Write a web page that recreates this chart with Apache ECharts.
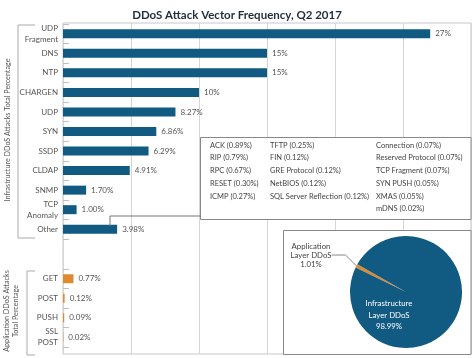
<!DOCTYPE html>
<html>
<head>
<meta charset="utf-8">
<script src="https://cdn.jsdelivr.net/npm/echarts@6/dist/echarts.min.js"></script>
<style>
html,body{margin:0;padding:0;background:#fff;}
#chart{width:474px;height:358px;}
</style>
</head>
<body>
<div id="chart"></div>
<script>
// ---- data ----
var infraCats = ['UDP\nFragment','DNS','NTP','CHARGEN','UDP','SYN','SSDP','CLDAP','SNMP','TCP\nAnomaly','Other'];
var infraVals = [27, 15, 15, 10, 8.27, 6.86, 6.29, 4.91, 1.70, 1.00, 3.98];
var appCats = ['GET','POST','PUSH','SSL\nPOST'];
var appVals = [0.77, 0.12, 0.09, 0.02];
var otherNames = ['ACK','RIP','RPC','RESET','ICMP',
                  'TFTP','FIN','GRE Protocol','NetBIOS','SQL Server Reflection',
                  'Connection','Reserved Protocol','TCP Fragment','SYN PUSH','XMAS','mDNS'];
var otherVals = [0.89,0.79,0.67,0.30,0.27,
                 0.25,0.12,0.12,0.12,0.12,
                 0.07,0.07,0.07,0.05,0.05,0.02];
var otherColumns = [5, 5, 6];
var pieNames = ['Application\nLayer DDoS','Infrastructure\nLayer DDoS'];
var pieVals = [1.01, 98.99];
var xTicks = {min: 0, max: 30, interval: 5};

var BLUE = '#115a82', ORANGE = '#e08a2f';
var FONT = 'Lato, "Open Sans", sans-serif';
var LABEL_C = '#555';

function fmt(v){ return (Number.isInteger(v) && v >= 10) ? v + '%' : v.toFixed(2) + '%'; }

var chart = echarts.init(document.getElementById('chart'), null, {renderer:'canvas'});

// text box columns
var colX = [210, 270, 376];
var boxTexts = [];
var idx = 0;
otherColumns.forEach(function(n, c){
  var lines = [];
  for (var i = 0; i < n; i++, idx++) lines.push(otherNames[idx] + ' (' + otherVals[idx].toFixed(2) + '%)');
  boxTexts.push({type:'text', left: colX[c], top: 139, z: 101,
    style:{text: lines.join('\n'), fill:'#444', font: '7.5px ' + FONT, lineHeight: 12.7}});
});

var option = {
  animation: false,
  textStyle: {fontFamily: FONT},
  title: {text: 'DDoS Attack Vector Frequency, Q2 2017', left: 'center', top: 4,
    textStyle: {fontSize: 11.5, fontWeight: 'bold', color: '#1f2d3d', fontFamily: FONT}},
  grid: [
    {left: 63, top: 23, width: 408, height: 331, show: true, borderColor: '#c8c8c8', borderWidth: 1},
    {left: 63, top: 24, width: 408, height: 215},
    {left: 63, top: 269, width: 408, height: 78}
  ],
  xAxis: [
    {gridIndex: 0, type: 'value', min: xTicks.min, max: xTicks.max, interval: xTicks.interval,
      axisLabel: {show: false}, axisTick: {show: false}, axisLine: {show: false},
      splitLine: {show: true, lineStyle: {color: '#d6d6d6', width: 1}}},
    {gridIndex: 1, type: 'value', min: xTicks.min, max: xTicks.max, show: false},
    {gridIndex: 2, type: 'value', min: xTicks.min, max: xTicks.max, show: false}
  ],
  yAxis: [
    {gridIndex: 0, type: 'value', show: false},
    {gridIndex: 1, type: 'category', inverse: true, data: infraCats,
      axisLine: {show: false},
      axisTick: {show: true, inside: true, length: 6, lineStyle: {color: '#c0c0c0'}},
      axisLabel: {fontSize: 8, color: LABEL_C, margin: 5, lineHeight: 11, fontFamily: FONT}},
    {gridIndex: 2, type: 'category', inverse: true, data: appCats,
      axisLine: {show: false},
      axisTick: {show: true, inside: true, length: 6, lineStyle: {color: '#c0c0c0'}},
      axisLabel: {fontSize: 8, color: LABEL_C, margin: 5, lineHeight: 11, fontFamily: FONT}}
  ],
  series: [
    {type: 'bar', xAxisIndex: 1, yAxisIndex: 1, data: infraVals, barWidth: 9,
      itemStyle: {color: BLUE},
      label: {show: true, position: 'right', distance: 5, fontSize: 8, color: LABEL_C,
        formatter: function(p){ return fmt(p.value); }}},
    {type: 'bar', xAxisIndex: 2, yAxisIndex: 2, data: appVals, barWidth: 9,
      itemStyle: {color: ORANGE},
      label: {show: true, position: 'right', distance: 5, fontSize: 8, color: LABEL_C,
        formatter: function(p){ return fmt(p.value); }}},
    {type: 'pie', z: 110, center: [406, 292], radius: 56, startAngle: 154, clockwise: true,
      silent: true,
      data: [
        {name: pieNames[0], value: pieVals[0], itemStyle: {color: ORANGE},
          label: {show: true, position: 'outside', color: '#444', fontSize: 7.8, lineHeight: 9, align: 'center',
            formatter: function(p){ return p.name + '\n' + p.value.toFixed(2) + '%'; }},
          labelLine: {show: true, length: 8, length2: 14, lineStyle: {color: '#888', width: 1}}},
        {name: pieNames[1], value: pieVals[1], itemStyle: {color: BLUE},
          label: {show: true, position: 'inside', color: '#fff', fontSize: 7.8, lineHeight: 11.5, align: 'center',
            formatter: function(p){ return p.name + '\n' + p.value.toFixed(2) + '%'; }},
          labelLine: {show: false}}
      ],
      labelLayout: function(p){
        if (p.dataIndex === 0) return {x: 311, y: 255, align: 'center', verticalAlign: 'middle'};
        return {x: 389, y: 315, align: 'center', verticalAlign: 'middle'};
      }
    }
  ],
  graphic: [
    // brackets
    {type: 'polyline', z: 100, shape: {points: [[35,25],[18,25],[18,238],[35,238]]}, style: {stroke: '#aaa', fill: null, lineWidth: 1}},
    {type: 'polyline', z: 100, shape: {points: [[35,271],[27,271],[27,355],[35,355]]}, style: {stroke: '#aaa', fill: null, lineWidth: 1}},
    // axis titles
    {type: 'text', z: 100, x: 8, y: 130, rotation: Math.PI/2,
      style: {text: 'Infrastructure DDoS Attacks Total Percentage', fill: '#555', font: '7.2px ' + FONT, align: 'center', verticalAlign: 'middle'}},
    {type: 'text', z: 100, x: 11, y: 311, rotation: Math.PI/2,
      style: {text: 'Application DDoS Attacks\nTotal Percentage', fill: '#555', font: '7.2px ' + FONT, align: 'center', verticalAlign: 'middle', lineHeight: 8.5}},
    // connector from Other bar to box
    {type: 'polyline', z: 100, shape: {points: [[110,226],[110,216],[200,216]]}, style: {stroke: '#777', fill: null, lineWidth: 1}},
    // other vectors box
    {type: 'rect', z: 100, shape: {x: 200.5, y: 137.5, width: 270.5, height: 82}, style: {fill: '#fff', stroke: '#888', lineWidth: 1}},
    // pie box
    {type: 'rect', z: 100, shape: {x: 283.5, y: 230.5, width: 187.5, height: 124}, style: {fill: '#fff', stroke: '#888', lineWidth: 1}}
  ].concat(boxTexts)
};
chart.setOption(option);
</script>
</body>
</html>
